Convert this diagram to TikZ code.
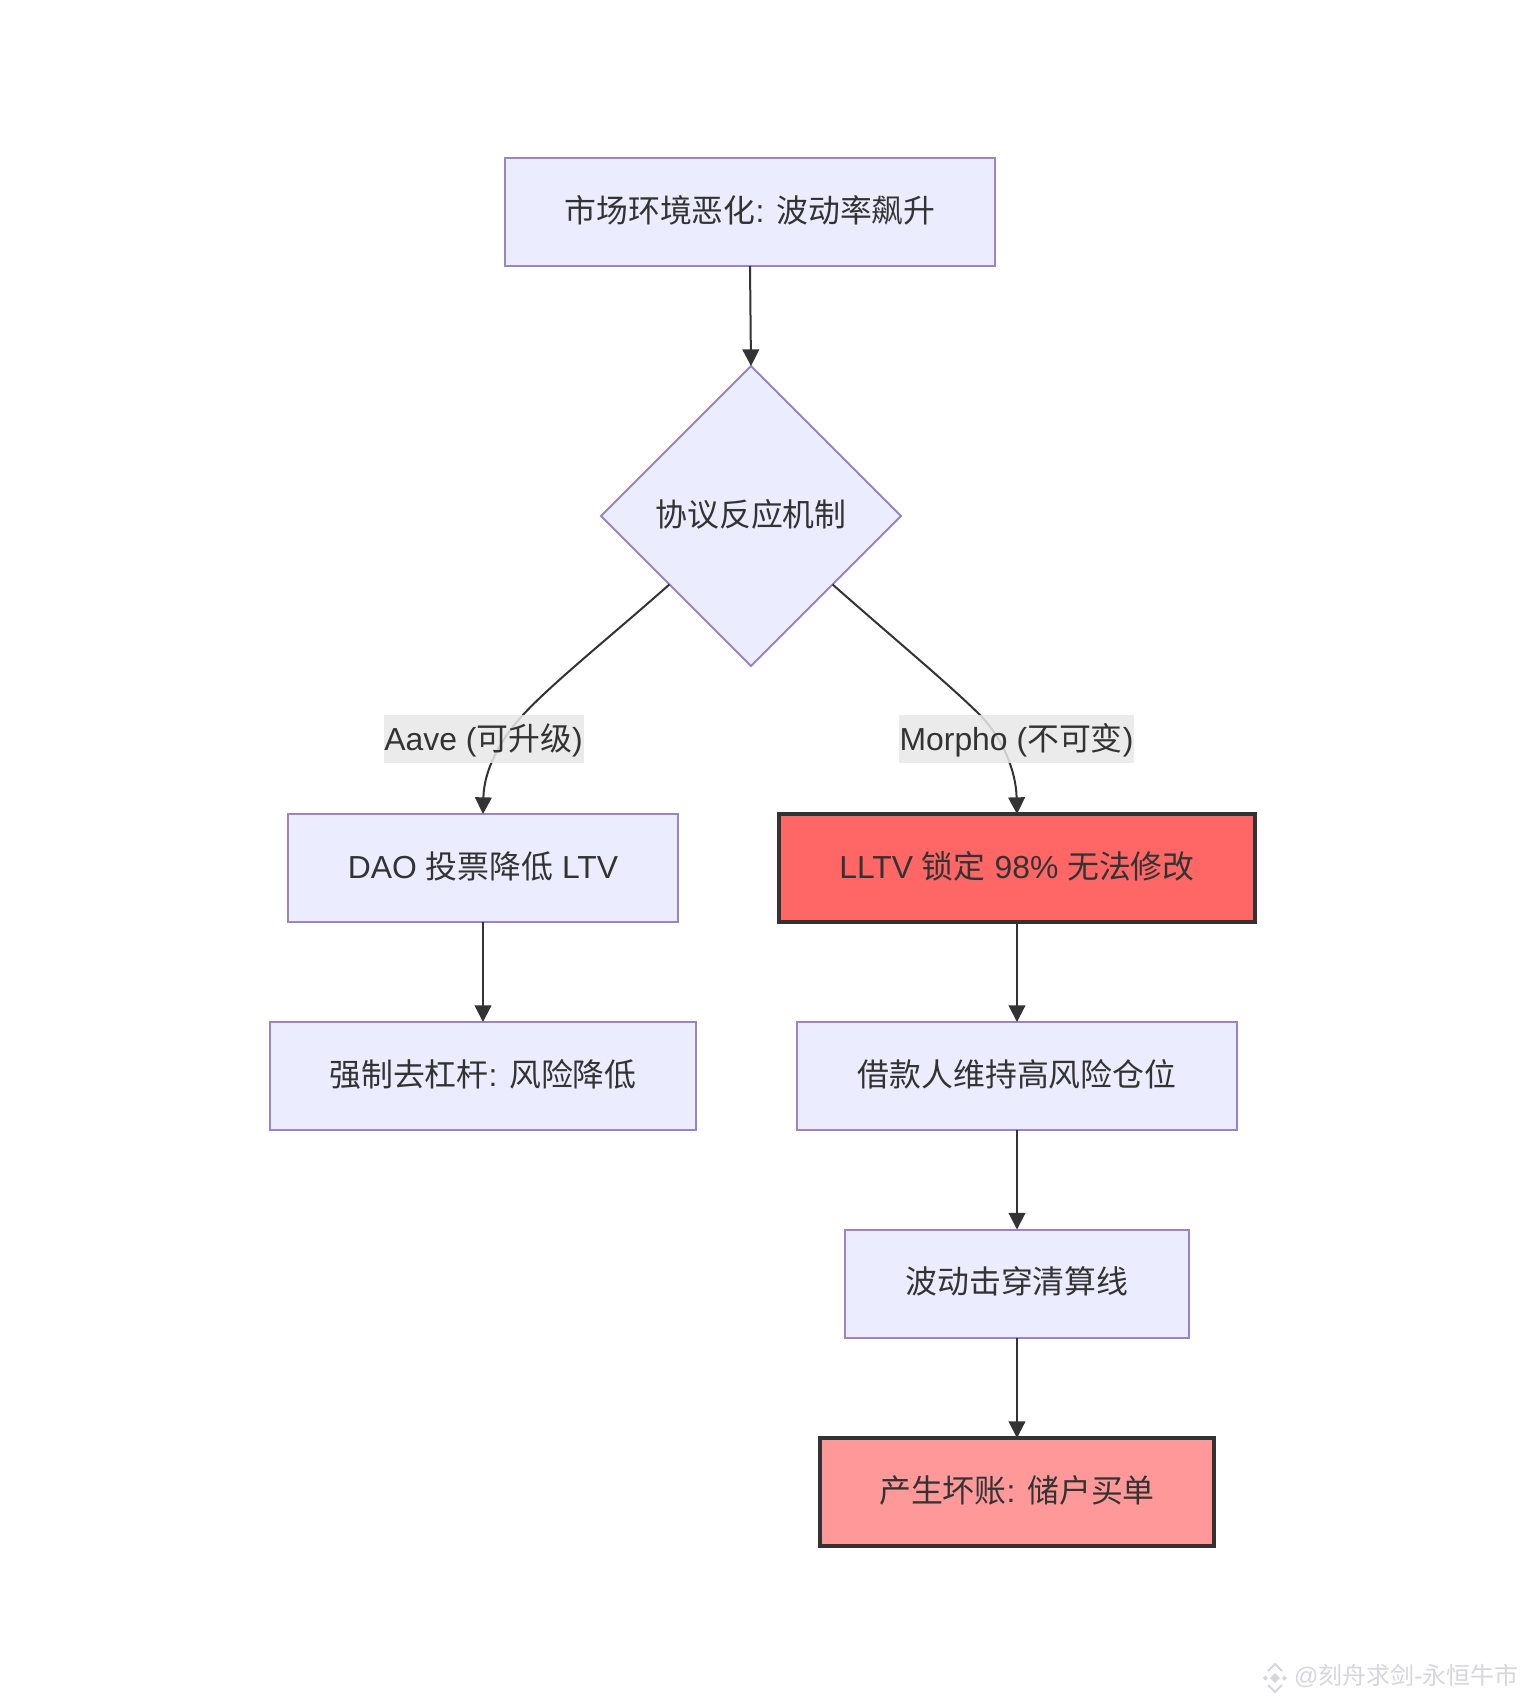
\documentclass[tikz,border=0pt]{standalone}
\usepackage{fontspec}
\setmainfont{Liberation Sans}
\newfontfamily\cjkfont{Noto Sans CJK SC}
\newcommand{\zh}[1]{{\cjkfont #1}}
\usetikzlibrary{arrows.meta,shapes.geometric}
\definecolor{ink}{HTML}{333333}
\definecolor{nodefill}{HTML}{ECECFF}
\definecolor{nodeline}{HTML}{9A84C4}
\definecolor{hot}{HTML}{FF6666}
\definecolor{warm}{HTML}{FF9999}
\definecolor{lab}{HTML}{E8E8E8}
\definecolor{wmgrey}{HTML}{D6D6DC}
\tikzset{
  x=0.75pt,y=-0.75pt,
  every node/.style={font=\fontsize{23.9pt}{28pt}\selectfont,text=ink,outer sep=0pt,inner sep=0pt},
  boxtext/.style={text height=20.7pt,text depth=5.5pt},
  flowbox/.style={boxtext,draw=nodeline,fill=nodefill,line width=1.5pt,rectangle,minimum height=81pt},
  alertbox/.style={boxtext,draw=ink,line width=3pt,rectangle,minimum height=81pt},
  decibox/.style={boxtext,draw=nodeline,fill=nodefill,line width=1.5pt,diamond,minimum width=225pt,minimum height=225pt},
  flowedge/.style={draw=ink,line width=1.5pt,-{Triangle[length=12.5pt,width=12.5pt]}},
  edgelabel/.style={fill=lab,fill opacity=0.85,text opacity=1,text height=22pt,text depth=5.2pt,minimum height=36pt},
  wmtext/.style={font=\fontsize{18pt}{20pt}\selectfont,text=wmgrey},
  wmlogo/.style={fill=wmgrey,draw=none}
}
\begin{document}
\begin{tikzpicture}
\useasboundingbox (0,0) rectangle (1526,1703);
\fill[white] (0,0) rectangle (1526,1703);
\node[flowbox,minimum width=367pt] (top) at (750,212) {\zh{市场环境恶化}: \zh{波动率飙升}};
\node[decibox] (dec) at (751,516) {\zh{协议反应机制}};
\node[flowbox,minimum width=293pt] (dao) at (483,868) {DAO \zh{投票降低} LTV};
\node[alertbox,fill=hot,minimum width=357pt] (lltv) at (1017,868) {LLTV \zh{锁定} 98\% \zh{无法修改}};
\node[flowbox,minimum width=319pt] (force) at (483,1076) {\zh{强制去杠杆}: \zh{风险降低}};
\node[flowbox,minimum width=330.5pt] (borrow) at (1017,1076) {\zh{借款人维持高风险仓位}};
\node[flowbox,minimum width=258pt] (pierce) at (1017,1283.5) {\zh{波动击穿清算线}};
\node[alertbox,fill=warm,minimum width=295pt] (bad) at (1017,1492) {\zh{产生坏账}: \zh{储户买单}};

\draw[flowedge] (top.south) -- (dec.north);
\draw[flowedge] (dec.220) .. controls (610,637) and (550,685) .. (522,716) .. controls (500,740) and (484,770) .. (dao.north);
\draw[flowedge] (dec.-40) .. controls (892,637) and (950,685) .. (981,716) .. controls (1002,738) and (1016,770) .. (lltv.north);
\draw[flowedge] (dao.south) -- (force.north);
\draw[flowedge] (lltv.south) -- (borrow.north);
\draw[flowedge] (borrow.south) -- (pierce.north);
\draw[flowedge] (pierce.south) -- (bad.north);

\node[edgelabel,minimum width=150pt] (aave) at (483.5,739) {Aave (\zh{可升级})};
\node[edgelabel,minimum width=176pt] (morpho) at (1016.5,739) {Morpho (\zh{不可变})};

\foreach \cx/\cy/\r in {1275/1678/5,1265.5/1678/2.5,1284.5/1678/2.5}
  \fill[wmlogo] (\cx-\r,\cy) -- (\cx,\cy-\r) -- (\cx+\r,\cy) -- (\cx,\cy+\r) -- cycle;
\draw[wmgrey,line width=1.5pt] (1268,1671) -- (1275,1664) -- (1282,1671);
\draw[wmgrey,line width=1.5pt] (1268,1685) -- (1275,1692) -- (1282,1685);
\node[wmtext,anchor=west] (water) at (1294,1676) {@\zh{刻舟求剑}-\zh{永恒牛市}};
\end{tikzpicture}
\end{document}
